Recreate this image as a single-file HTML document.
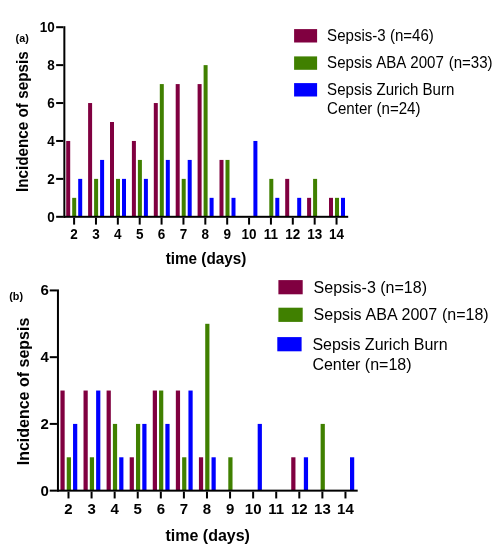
<!DOCTYPE html>
<html><head><meta charset="utf-8"><title>Incidence of sepsis</title>
<style>
html,body{margin:0;padding:0;background:#fff;}
svg{display:block;filter:blur(0.35px);}
text{font-family:"Liberation Sans",Arial,sans-serif;fill:#000;}
.tk{font-weight:bold;}
.ti{font-weight:bold;}
.pl{font-weight:bold;font-size:10.8px;}
.lg{font-weight:normal;}
</style></head><body>
<svg width="501" height="550" viewBox="0 0 501 550">
<rect width="501" height="550" fill="#fff"/>
<rect x="66.20" y="140.96" width="4.00" height="75.84" fill="#800040"/>
<rect x="88.10" y="103.04" width="4.00" height="113.76" fill="#800040"/>
<rect x="110.00" y="122.00" width="4.00" height="94.80" fill="#800040"/>
<rect x="131.90" y="140.96" width="4.00" height="75.84" fill="#800040"/>
<rect x="153.80" y="103.04" width="4.00" height="113.76" fill="#800040"/>
<rect x="175.70" y="84.08" width="4.00" height="132.72" fill="#800040"/>
<rect x="197.60" y="84.08" width="4.00" height="132.72" fill="#800040"/>
<rect x="219.50" y="159.92" width="4.00" height="56.88" fill="#800040"/>
<rect x="285.20" y="178.88" width="4.00" height="37.92" fill="#800040"/>
<rect x="307.10" y="197.84" width="4.00" height="18.96" fill="#800040"/>
<rect x="329.00" y="197.84" width="4.00" height="18.96" fill="#800040"/>
<rect x="72.20" y="197.84" width="4.00" height="18.96" fill="#408000"/>
<rect x="94.10" y="178.88" width="4.00" height="37.92" fill="#408000"/>
<rect x="116.00" y="178.88" width="4.00" height="37.92" fill="#408000"/>
<rect x="137.90" y="159.92" width="4.00" height="56.88" fill="#408000"/>
<rect x="159.80" y="84.08" width="4.00" height="132.72" fill="#408000"/>
<rect x="181.70" y="178.88" width="4.00" height="37.92" fill="#408000"/>
<rect x="203.60" y="65.12" width="4.00" height="151.68" fill="#408000"/>
<rect x="225.50" y="159.92" width="4.00" height="56.88" fill="#408000"/>
<rect x="269.30" y="178.88" width="4.00" height="37.92" fill="#408000"/>
<rect x="313.10" y="178.88" width="4.00" height="37.92" fill="#408000"/>
<rect x="335.00" y="197.84" width="4.00" height="18.96" fill="#408000"/>
<rect x="78.20" y="178.88" width="4.00" height="37.92" fill="#0000FF"/>
<rect x="100.10" y="159.92" width="4.00" height="56.88" fill="#0000FF"/>
<rect x="122.00" y="178.88" width="4.00" height="37.92" fill="#0000FF"/>
<rect x="143.90" y="178.88" width="4.00" height="37.92" fill="#0000FF"/>
<rect x="165.80" y="159.92" width="4.00" height="56.88" fill="#0000FF"/>
<rect x="187.70" y="159.92" width="4.00" height="56.88" fill="#0000FF"/>
<rect x="209.60" y="197.84" width="4.00" height="18.96" fill="#0000FF"/>
<rect x="231.50" y="197.84" width="4.00" height="18.96" fill="#0000FF"/>
<rect x="253.40" y="140.96" width="4.00" height="75.84" fill="#0000FF"/>
<rect x="275.30" y="197.84" width="4.00" height="18.96" fill="#0000FF"/>
<rect x="297.20" y="197.84" width="4.00" height="18.96" fill="#0000FF"/>
<rect x="341.00" y="197.84" width="4.00" height="18.96" fill="#0000FF"/>
<rect x="63.35" y="26.20" width="2" height="191.60" fill="#000"/>
<rect x="63.35" y="215.80" width="284.85" height="2" fill="#000"/>
<rect x="56.15" y="215.80" width="7.2" height="2" fill="#000"/>
<text transform="translate(54.85,221.90) scale(0.9,1)" text-anchor="end" class="tk" font-size="15.0">0</text>
<rect x="56.15" y="177.88" width="7.2" height="2" fill="#000"/>
<text transform="translate(54.85,183.98) scale(0.9,1)" text-anchor="end" class="tk" font-size="15.0">2</text>
<rect x="56.15" y="139.96" width="7.2" height="2" fill="#000"/>
<text transform="translate(54.85,146.06) scale(0.9,1)" text-anchor="end" class="tk" font-size="15.0">4</text>
<rect x="56.15" y="102.04" width="7.2" height="2" fill="#000"/>
<text transform="translate(54.85,108.14) scale(0.9,1)" text-anchor="end" class="tk" font-size="15.0">6</text>
<rect x="56.15" y="64.12" width="7.2" height="2" fill="#000"/>
<text transform="translate(54.85,70.22) scale(0.9,1)" text-anchor="end" class="tk" font-size="15.0">8</text>
<rect x="56.15" y="26.20" width="7.2" height="2" fill="#000"/>
<text transform="translate(54.85,32.30) scale(0.9,1)" text-anchor="end" class="tk" font-size="15.0">10</text>
<rect x="73.10" y="217.80" width="2" height="6.8" fill="#000"/>
<text transform="translate(74.10,239.00) scale(0.9,1)" text-anchor="middle" class="tk" font-size="15.0">2</text>
<rect x="94.97" y="217.80" width="2" height="6.8" fill="#000"/>
<text transform="translate(95.97,239.00) scale(0.9,1)" text-anchor="middle" class="tk" font-size="15.0">3</text>
<rect x="116.84" y="217.80" width="2" height="6.8" fill="#000"/>
<text transform="translate(117.84,239.00) scale(0.9,1)" text-anchor="middle" class="tk" font-size="15.0">4</text>
<rect x="138.71" y="217.80" width="2" height="6.8" fill="#000"/>
<text transform="translate(139.71,239.00) scale(0.9,1)" text-anchor="middle" class="tk" font-size="15.0">5</text>
<rect x="160.58" y="217.80" width="2" height="6.8" fill="#000"/>
<text transform="translate(161.58,239.00) scale(0.9,1)" text-anchor="middle" class="tk" font-size="15.0">6</text>
<rect x="182.45" y="217.80" width="2" height="6.8" fill="#000"/>
<text transform="translate(183.45,239.00) scale(0.9,1)" text-anchor="middle" class="tk" font-size="15.0">7</text>
<rect x="204.32" y="217.80" width="2" height="6.8" fill="#000"/>
<text transform="translate(205.32,239.00) scale(0.9,1)" text-anchor="middle" class="tk" font-size="15.0">8</text>
<rect x="226.19" y="217.80" width="2" height="6.8" fill="#000"/>
<text transform="translate(227.19,239.00) scale(0.9,1)" text-anchor="middle" class="tk" font-size="15.0">9</text>
<rect x="248.06" y="217.80" width="2" height="6.8" fill="#000"/>
<text transform="translate(249.06,239.00) scale(0.9,1)" text-anchor="middle" class="tk" font-size="15.0">10</text>
<rect x="269.93" y="217.80" width="2" height="6.8" fill="#000"/>
<text transform="translate(270.93,239.00) scale(0.9,1)" text-anchor="middle" class="tk" font-size="15.0">11</text>
<rect x="291.80" y="217.80" width="2" height="6.8" fill="#000"/>
<text transform="translate(292.80,239.00) scale(0.9,1)" text-anchor="middle" class="tk" font-size="15.0">12</text>
<rect x="313.67" y="217.80" width="2" height="6.8" fill="#000"/>
<text transform="translate(314.67,239.00) scale(0.9,1)" text-anchor="middle" class="tk" font-size="15.0">13</text>
<rect x="335.54" y="217.80" width="2" height="6.8" fill="#000"/>
<text transform="translate(336.54,239.00) scale(0.9,1)" text-anchor="middle" class="tk" font-size="15.0">14</text>
<text transform="translate(28,121.7) rotate(-90) scale(0.955,1)" text-anchor="middle" class="ti" font-size="16.0">Incidence of sepsis</text>
<text transform="translate(206,263.7) scale(0.955,1)" text-anchor="middle" class="ti" font-size="16.0">time (days)</text>
<text x="15.6" y="42.1" class="pl">(a)</text>
<rect x="294.1" y="29.1" width="23" height="13.4" fill="#800040"/>
<text class="lg" font-size="16.0" transform="translate(327.1,40.7) scale(0.942,1)">Sepsis-3 (n=46)</text>
<rect x="294.1" y="56.4" width="23" height="13.4" fill="#408000"/>
<text class="lg" word-spacing="0.65" font-size="16.0" transform="translate(327.1,67.8) scale(0.942,1)">Sepsis ABA 2007 (n=33)</text>
<rect x="294.1" y="83.1" width="23" height="13.4" fill="#0000FF"/>
<text class="lg" font-size="16.0" transform="translate(327.1,94.8) scale(0.942,1)">Sepsis Zurich Burn</text>
<text class="lg" font-size="16.0" transform="translate(327.1,113.7) scale(0.942,1)">Center (n=24)</text>
<rect x="60.44" y="390.54" width="4.22" height="100.11" fill="#800040"/>
<rect x="83.52" y="390.54" width="4.22" height="100.11" fill="#800040"/>
<rect x="106.60" y="390.54" width="4.22" height="100.11" fill="#800040"/>
<rect x="129.68" y="457.28" width="4.22" height="33.37" fill="#800040"/>
<rect x="152.76" y="390.54" width="4.22" height="100.11" fill="#800040"/>
<rect x="175.84" y="390.54" width="4.22" height="100.11" fill="#800040"/>
<rect x="198.92" y="457.28" width="4.22" height="33.37" fill="#800040"/>
<rect x="291.24" y="457.28" width="4.22" height="33.37" fill="#800040"/>
<rect x="66.74" y="457.28" width="4.22" height="33.37" fill="#408000"/>
<rect x="89.82" y="457.28" width="4.22" height="33.37" fill="#408000"/>
<rect x="112.90" y="423.91" width="4.22" height="66.74" fill="#408000"/>
<rect x="135.98" y="423.91" width="4.22" height="66.74" fill="#408000"/>
<rect x="159.06" y="390.54" width="4.22" height="100.11" fill="#408000"/>
<rect x="182.14" y="457.28" width="4.22" height="33.37" fill="#408000"/>
<rect x="205.22" y="323.80" width="4.22" height="166.85" fill="#408000"/>
<rect x="228.30" y="457.28" width="4.22" height="33.37" fill="#408000"/>
<rect x="320.62" y="423.91" width="4.22" height="66.74" fill="#408000"/>
<rect x="73.04" y="423.91" width="4.22" height="66.74" fill="#0000FF"/>
<rect x="96.12" y="390.54" width="4.22" height="100.11" fill="#0000FF"/>
<rect x="119.20" y="457.28" width="4.22" height="33.37" fill="#0000FF"/>
<rect x="142.28" y="423.91" width="4.22" height="66.74" fill="#0000FF"/>
<rect x="165.36" y="423.91" width="4.22" height="66.74" fill="#0000FF"/>
<rect x="188.44" y="390.54" width="4.22" height="100.11" fill="#0000FF"/>
<rect x="211.52" y="457.28" width="4.22" height="33.37" fill="#0000FF"/>
<rect x="257.68" y="423.91" width="4.22" height="66.74" fill="#0000FF"/>
<rect x="303.84" y="457.28" width="4.22" height="33.37" fill="#0000FF"/>
<rect x="350.00" y="457.28" width="4.22" height="33.37" fill="#0000FF"/>
<rect x="56.95" y="289.43" width="2" height="202.22" fill="#000"/>
<rect x="56.95" y="489.65" width="300.75" height="2" fill="#000"/>
<rect x="49.75" y="489.65" width="7.2" height="2" fill="#000"/>
<text transform="translate(48.75,495.65) scale(1,1)" text-anchor="end" class="tk" font-size="15.0">0</text>
<rect x="49.75" y="422.91" width="7.2" height="2" fill="#000"/>
<text transform="translate(48.75,428.91) scale(1,1)" text-anchor="end" class="tk" font-size="15.0">2</text>
<rect x="49.75" y="356.17" width="7.2" height="2" fill="#000"/>
<text transform="translate(48.75,362.17) scale(1,1)" text-anchor="end" class="tk" font-size="15.0">4</text>
<rect x="49.75" y="289.43" width="7.2" height="2" fill="#000"/>
<text transform="translate(48.75,295.43) scale(1,1)" text-anchor="end" class="tk" font-size="15.0">6</text>
<rect x="67.50" y="491.65" width="2" height="6.8" fill="#000"/>
<text transform="translate(68.50,513.80) scale(1,1)" text-anchor="middle" class="tk" font-size="15.0">2</text>
<rect x="90.58" y="491.65" width="2" height="6.8" fill="#000"/>
<text transform="translate(91.58,513.80) scale(1,1)" text-anchor="middle" class="tk" font-size="15.0">3</text>
<rect x="113.66" y="491.65" width="2" height="6.8" fill="#000"/>
<text transform="translate(114.66,513.80) scale(1,1)" text-anchor="middle" class="tk" font-size="15.0">4</text>
<rect x="136.74" y="491.65" width="2" height="6.8" fill="#000"/>
<text transform="translate(137.74,513.80) scale(1,1)" text-anchor="middle" class="tk" font-size="15.0">5</text>
<rect x="159.82" y="491.65" width="2" height="6.8" fill="#000"/>
<text transform="translate(160.82,513.80) scale(1,1)" text-anchor="middle" class="tk" font-size="15.0">6</text>
<rect x="182.90" y="491.65" width="2" height="6.8" fill="#000"/>
<text transform="translate(183.90,513.80) scale(1,1)" text-anchor="middle" class="tk" font-size="15.0">7</text>
<rect x="205.98" y="491.65" width="2" height="6.8" fill="#000"/>
<text transform="translate(206.98,513.80) scale(1,1)" text-anchor="middle" class="tk" font-size="15.0">8</text>
<rect x="229.06" y="491.65" width="2" height="6.8" fill="#000"/>
<text transform="translate(230.06,513.80) scale(1,1)" text-anchor="middle" class="tk" font-size="15.0">9</text>
<rect x="252.14" y="491.65" width="2" height="6.8" fill="#000"/>
<text transform="translate(253.14,513.80) scale(1,1)" text-anchor="middle" class="tk" font-size="15.0">10</text>
<rect x="275.22" y="491.65" width="2" height="6.8" fill="#000"/>
<text transform="translate(276.22,513.80) scale(1,1)" text-anchor="middle" class="tk" font-size="15.0">11</text>
<rect x="298.30" y="491.65" width="2" height="6.8" fill="#000"/>
<text transform="translate(299.30,513.80) scale(1,1)" text-anchor="middle" class="tk" font-size="15.0">12</text>
<rect x="321.38" y="491.65" width="2" height="6.8" fill="#000"/>
<text transform="translate(322.38,513.80) scale(1,1)" text-anchor="middle" class="tk" font-size="15.0">13</text>
<rect x="344.46" y="491.65" width="2" height="6.8" fill="#000"/>
<text transform="translate(345.46,513.80) scale(1,1)" text-anchor="middle" class="tk" font-size="15.0">14</text>
<text transform="translate(29,391.5) rotate(-90) scale(1,1)" text-anchor="middle" class="ti" font-size="16.0">Incidence of sepsis</text>
<text transform="translate(207.7,540.8) scale(1,1)" text-anchor="middle" class="ti" font-size="16.0">time (days)</text>
<text x="9.2" y="299.8" class="pl">(b)</text>
<rect x="278.4" y="280.1" width="24.3" height="14.2" fill="#800040"/>
<text class="lg" font-size="16.0" transform="translate(313.6,293.0) scale(1,1)">Sepsis-3 (n=18)</text>
<rect x="278.4" y="307.7" width="24.3" height="14.2" fill="#408000"/>
<text class="lg" word-spacing="0.4" font-size="16.0" transform="translate(313.6,320.2) scale(1,1)">Sepsis ABA 2007 (n=18)</text>
<rect x="277.3" y="337.1" width="24.3" height="14.2" fill="#0000FF"/>
<text class="lg" font-size="16.0" transform="translate(312.4,349.5) scale(1,1)">Sepsis Zurich Burn</text>
<text class="lg" font-size="16.0" transform="translate(312.4,369.5) scale(1,1)">Center (n=18)</text>
</svg>
</body></html>
